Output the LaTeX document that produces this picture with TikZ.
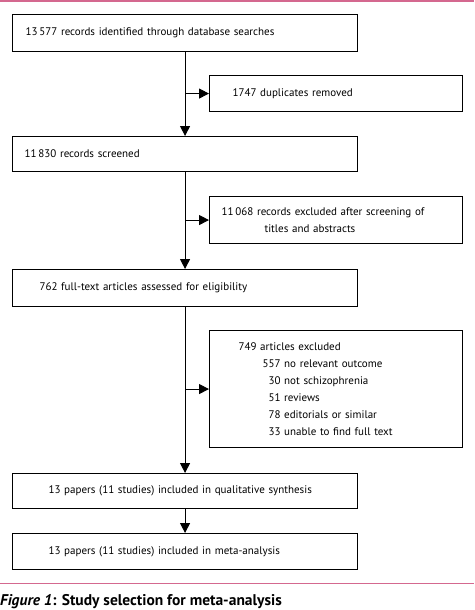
\documentclass[tikz,border=0pt]{standalone}
\usepackage{fontspec}
\setmainfont{PT Sans}
\usetikzlibrary{arrows.meta}
\definecolor{lancetpink}{RGB}{212,104,143}
\tikzset{
  box/.style={draw=black, line width=1.1pt, anchor=north west, align=left,
    inner ysep=0pt, font=\fontsize{11}{17}\selectfont},
  arr/.style={line width=1pt, -{Triangle[length=10pt,width=10pt]}},
}
\begin{document}
\begin{tikzpicture}[x=1pt,y=-1pt]
\useasboundingbox (0,0) rectangle (474,610);
\fill[lancetpink] (0,0) rectangle (474,2.2);
\node[box, text width=319pt, inner xsep=13pt, minimum height=37pt] (b1) at (12,14)
  {13\,577 records identified through database searches};
\node[box, text width=207pt, inner xsep=23pt, minimum height=36pt] (b2) at (209,75)
  {1747 duplicates removed};
\node[box, text width=321pt, inner xsep=12pt, minimum height=35pt] (b3) at (12,136)
  {11\,830 records screened};
\node[box, text width=229pt, inner xsep=12pt, minimum height=47pt] (b4) at (209,196)
  {11\,068 records excluded after screening of\\\hspace*{43pt}titles and abstracts};
\node[box, text width=291pt, inner xsep=27pt, minimum height=37pt] (b5) at (12,269)
  {762 full-text articles assessed for eligibility};
\node[box, text width=195pt, inner xsep=29pt, minimum height=117pt] (b6) at (209,330)
  {749 articles excluded\\
   \hspace*{24pt}557 no relevant outcome\\
   \hspace*{30pt}30 not schizophrenia\\
   \hspace*{30pt}51 reviews\\
   \hspace*{30pt}78 editorials or similar\\
   \hspace*{30pt}33 unable to find full text};
\node[box, text width=273pt, inner xsep=36pt, minimum height=35pt] (b7) at (12,473)
  {13 papers (11 studies) included in qualitative synthesis};
\node[box, text width=273pt, inner xsep=36pt, minimum height=36pt] (b8) at (12,533)
  {13 papers (11 studies) included in meta-analysis};
\draw[arr] (b1) -- (b3);
\draw[arr] (b3) -- (b5);
\draw[arr] (b5) -- (b7);
\draw[arr] (b7) -- (b8);
\draw[arr] (b2.west -| b1.south) -- (b2.west);
\draw[arr] (b4.west -| b3.south) -- (b4.west);
\draw[arr] (b6.west -| b5.south) -- (b6.west);
\draw[lancetpink, line width=0.8pt] (0,583) -- (474,583);
\node[anchor=west, inner sep=0pt, font=\fontsize{15.5}{17}\selectfont\bfseries] (cap) at (0,602)
  {\textit{Figure 1}: Study selection for meta-analysis};
\end{tikzpicture}
\end{document}
